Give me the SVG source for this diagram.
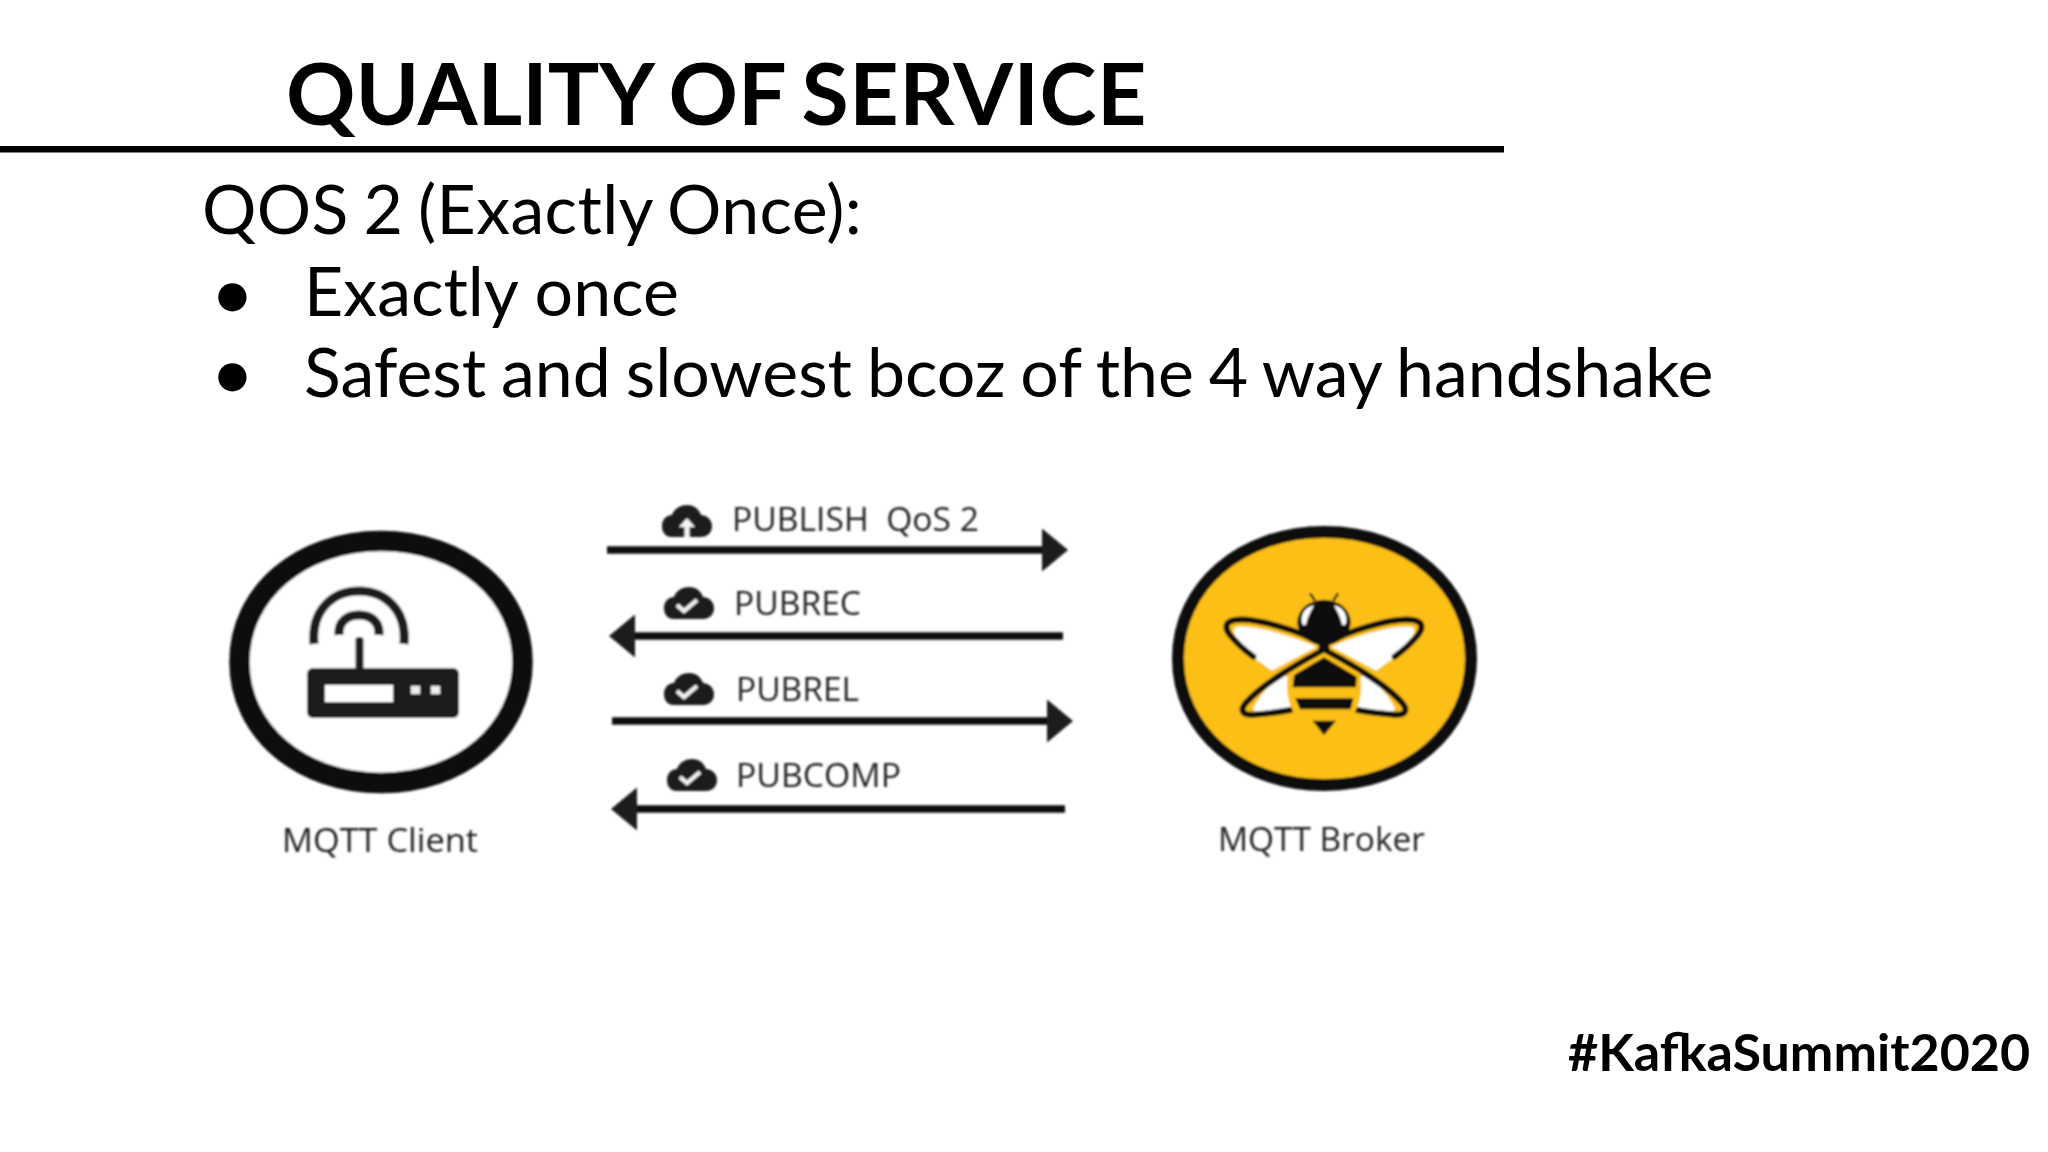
<svg xmlns="http://www.w3.org/2000/svg" width="2048" height="1152" viewBox="0 0 2048 1152">
<style>
.title{font:700 86px Lato,"Liberation Sans",sans-serif;fill:#000;word-spacing:-4px}
.body{font:400 68px Lato,"Liberation Sans",sans-serif;fill:#000}
.dot{font:400 58px Lato,"Liberation Sans",sans-serif;fill:#000}
.tag{font:700 52px Lato,"Liberation Sans",sans-serif;fill:#000}
.lbl{font:400 32.500px "Open Sans","Liberation Sans",sans-serif;fill:#222}
.conn{stroke:#0c0c0c;stroke-width:7.500;fill:none;marker-end:url(#head)}
.k{fill:#0a0a0a}
.w{fill:#fff}
.y{fill:#fbbf15}
.bs{fill:none;stroke:#0a0a0a;stroke-width:18;stroke-linecap:round}
</style>
<defs>
<filter id="soft" x="-5%" y="-5%" width="110%" height="110%"><feGaussianBlur stdDeviation="0.8"/></filter>
<marker id="head" markerUnits="userSpaceOnUse" markerWidth="27" markerHeight="44" refX="1" refY="22" orient="auto"><path d="M0,0.500 L26,22 L0,43.500Z" fill="#1c1c1c"/></marker>
<path id="cloud" d="M10,32 C3,32 0,27 0,21 C0,15 4,10 10,10 C12,4 18,0 25,0 C32,0 37,4 39,10 C45,10 50,15 50,21 C50,28 45,32 39,32 Z" fill="#1c1c1c"/>
<polyline id="tick" points="13,18 20,24 33,13" fill="none" stroke="#f4f4f4" stroke-width="4"/>
<g id="wl">
<path class="w" d="M290,200 C220,170 110,135 50,140 C35,145 40,165 55,178 L100,232 L155,272 Z"/>
<path class="bs" d="M312,195 C240,150 100,112 45,120 C17,124 12,142 30,165 C50,190 80,215 100,230"/>
<path class="w" d="M190,278 C150,310 115,350 100,385 C100,395 110,400 130,398 L210,385 L210,300 Z"/>
<path class="bs" d="M320,205 C250,240 130,310 78,368 C56,395 72,406 100,404 C140,401 180,396 212,390"/>
</g>
<path id="eye" class="w" d="M282,76 C258,80 243,100 245,125 C247,136 254,139 258,133 C262,112 272,95 282,76 Z"/>
</defs>
<rect width="2048" height="1152" fill="#fff"/>

<g id="heading">
<text class="title" x="286" y="125">QUALITY OF <tspan letter-spacing="0.600">SERVICE</tspan></text>
<rect x="0" y="146" width="1504" height="6.500" fill="#000"/>
</g>
<g id="bullets">
<text class="body" x="202" y="234" style="word-spacing:-3px;letter-spacing:0.350px">QOS 2 (Exactly Once):</text>
<text class="dot" x="215" y="315">●</text>
<text class="body" x="304" y="316">Exactly once</text>
<text class="dot" x="215" y="395">●</text>
<text class="body" x="304" y="397" style="word-spacing:-2.500px">Safest and slowest bcoz of the 4 way handshake</text>
</g>
<text id="hashtag" class="tag" x="1568" y="1071">#KafkaSummit2020</text>

<g filter="url(#soft)">
<g id="client">
<path d="M239.500,662 C239.500,593 300.300,541 381,541 C461.700,541 522.500,593 522.500,662 C522.500,731 461.700,783 381,783 C300.300,783 239.500,731 239.500,662Z" fill="#fff" stroke="#111" stroke-width="20.500"/>
<path d="M314,644 C311,610 333,591 359,591 C385,591 407,610 404,644" fill="none" stroke="#1c1c1c" stroke-width="9"/>
<path d="M339,635 C338,622 347,615 359,615 C371,615 380,622 379,635" fill="none" stroke="#1c1c1c" stroke-width="9"/>
<rect x="355.500" y="637" width="8" height="33" rx="3" fill="#1c1c1c"/>
<rect x="307" y="668" width="152" height="50" rx="6" fill="#1c1c1c"/>
<rect x="325" y="685" width="68" height="17" fill="#fff"/>
<rect x="411" y="686" width="9" height="8" fill="#eee"/>
<rect x="431" y="686" width="9" height="8" fill="#eee"/>
<text class="lbl" x="282" y="852" textLength="196" lengthAdjust="spacingAndGlyphs">MQTT Client</text>
</g>

<g id="connectors">
<line class="conn" x1="607" y1="550" x2="1043" y2="550"/>
<line class="conn" x1="1063" y1="636" x2="634" y2="636"/>
<line class="conn" x1="612" y1="721" x2="1048" y2="721"/>
<line class="conn" x1="1065" y1="809" x2="636" y2="809"/>
</g>

<g id="publish-label">
<use href="#cloud" x="662" y="505"/>
<path d="M687,518 L679,527 L684.500,527 L684.500,537 L689.500,537 L689.500,527 L695,527 Z" fill="#f4f4f4"/>
<text class="lbl" x="732" y="531" textLength="247" lengthAdjust="spacingAndGlyphs" xml:space="preserve">PUBLISH  QoS 2</text>
</g>
<g id="pubrec-label">
<use href="#cloud" x="664" y="587"/><use href="#tick" x="664" y="587"/>
<text class="lbl" x="734" y="615" textLength="127" lengthAdjust="spacingAndGlyphs">PUBREC</text>
</g>
<g id="pubrel-label">
<use href="#cloud" x="664" y="673"/><use href="#tick" x="664" y="673"/>
<text class="lbl" x="736" y="701" textLength="123" lengthAdjust="spacingAndGlyphs">PUBREL</text>
</g>
<g id="pubcomp-label">
<use href="#cloud" x="667" y="759"/><use href="#tick" x="667" y="759"/>
<text class="lbl" x="736" y="787" textLength="165" lengthAdjust="spacingAndGlyphs">PUBCOMP</text>
</g>

<g id="broker">
<path d="M1178,658.500 C1178,586.500 1241,532 1324.500,532 C1408,532 1471,586.500 1471,658.500 C1471,730.500 1408,785 1324.500,785 C1241,785 1178,730.500 1178,658.500Z" fill="#fbbf15" stroke="#0c0c0c" stroke-width="12"/>
<g transform="translate(1220 580) scale(.33333)">
<use href="#wl"/>
<use href="#wl" transform="translate(624 0) scale(-1 1)"/>
<path class="y" d="M312,218 L420,280 C430,330 420,380 395,410 L230,410 C205,380 195,330 205,280 Z"/>
<ellipse cx="312" cy="127" rx="80" ry="68" fill="#0a0a0a"/>
<use href="#eye"/>
<use href="#eye" transform="translate(624 0) scale(-1 1)"/>
<path d="M285,62 L270,40 M340,62 L354,40" fill="none" stroke="#0a0a0a" stroke-width="7"/>
<path class="k" d="M312,232 L410,290 L408,322 L218,322 L222,285 Z"/>
<path class="k" d="M226,355 L400,355 L392,388 L240,388 Z"/>
<path class="k" d="M278,422 L348,422 L312,466 Z"/>
</g>
<text class="lbl" x="1218" y="851" textLength="207" lengthAdjust="spacingAndGlyphs">MQTT Broker</text>
</g>
</g>
</svg>
